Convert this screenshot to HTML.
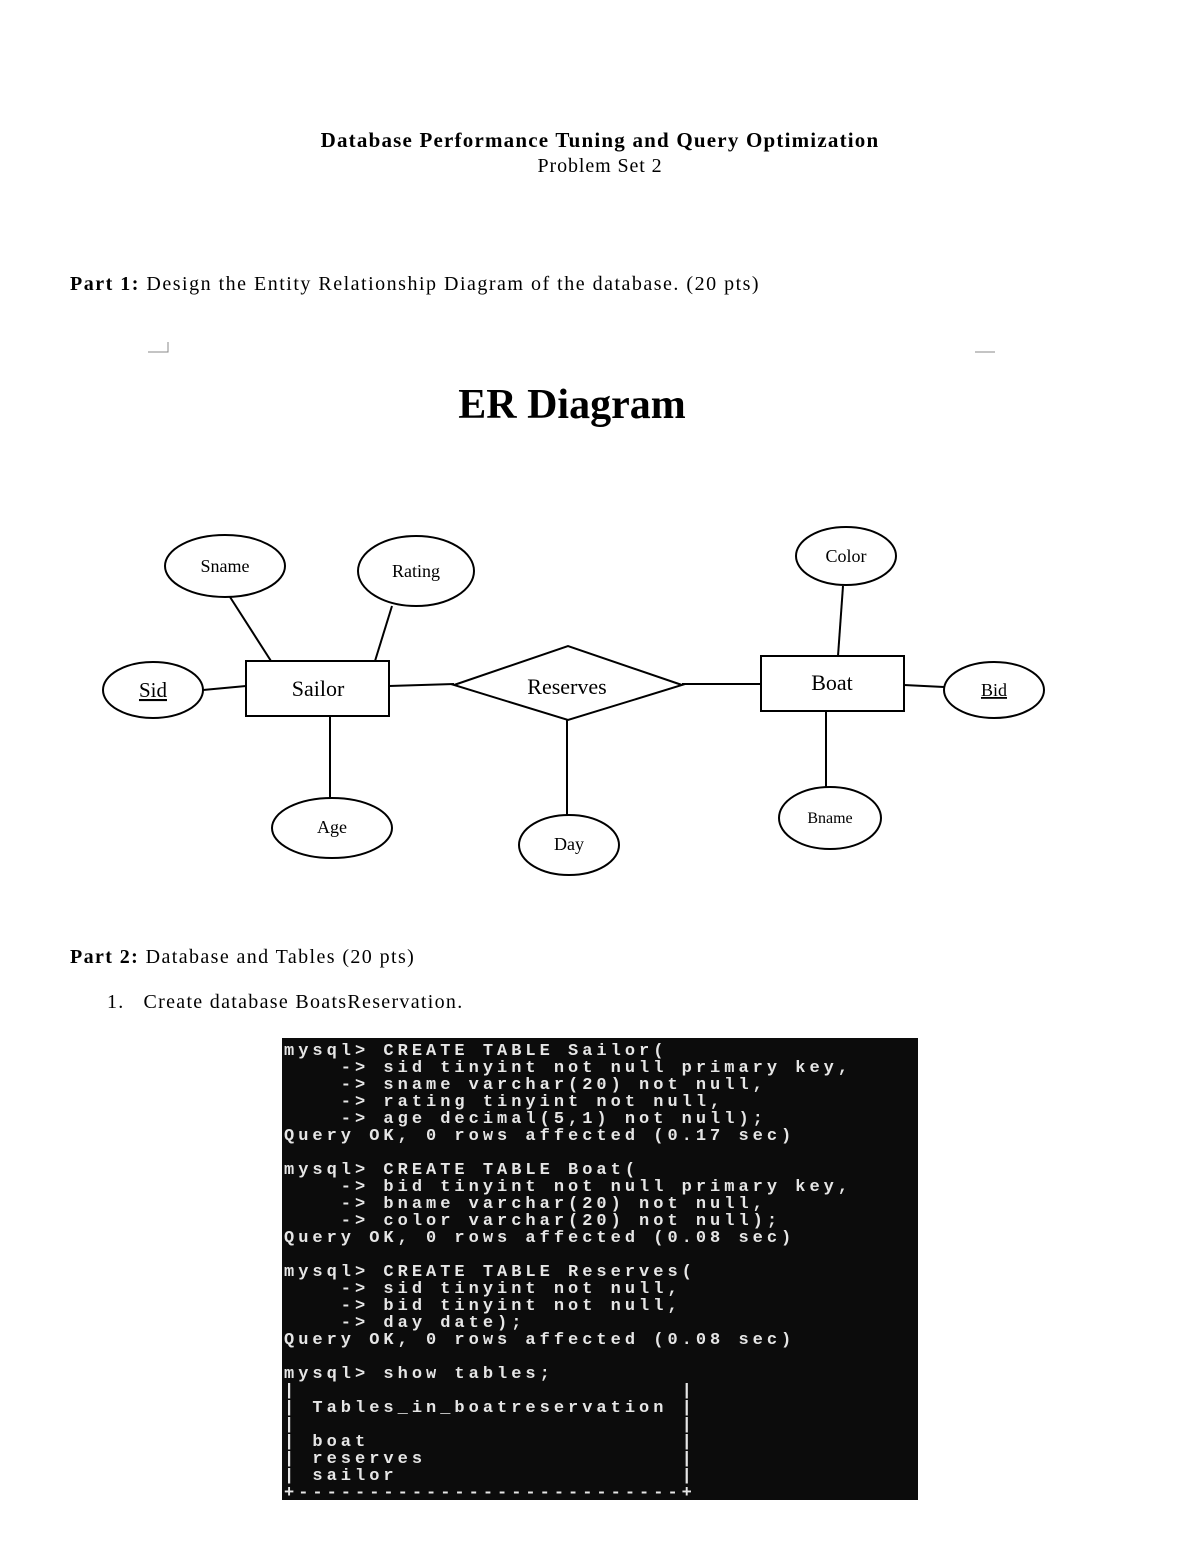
<!DOCTYPE html>
<html><head><meta charset="utf-8"><style>
body{margin:0;width:1200px;height:1553px;background:#fff;position:relative;font-family:"Liberation Serif",serif;color:#000;overflow:hidden}
.t{position:absolute;white-space:nowrap}
.term{position:absolute;left:282px;top:1038px;width:636px;height:462px;background:#0c0c0c}
.term pre{margin:0;position:absolute;left:2px;top:5px;font-family:"Liberation Mono",monospace;font-size:17px;line-height:17px;letter-spacing:4.0px;color:#e6e6e6;font-weight:bold}
</style></head><body>
<div class="t" style="left:0;width:1200px;text-align:center;top:128px;font-size:21px;font-weight:bold;letter-spacing:1.2px">Database Performance Tuning and Query Optimization</div>
<div class="t" style="left:0;width:1200px;text-align:center;top:155px;font-size:20px;letter-spacing:0.9px">Problem Set 2</div>
<div class="t" style="left:70px;top:273px;font-size:20px;letter-spacing:1.5px"><b>Part 1:</b> Design the Entity Relationship Diagram of the database. (20 pts)</div>
<div class="t" style="left:70px;top:946px;font-size:20px;letter-spacing:1.4px"><b>Part 2:</b> Database and Tables (20 pts)</div>
<div class="t" style="left:107px;top:991px;font-size:20px;letter-spacing:1.3px">1.&nbsp;&nbsp;&nbsp;Create database BoatsReservation.</div>
<svg width="1200" height="940" style="position:absolute;left:0;top:0" font-family="Liberation Serif,serif">
<path d="M148 352H168V342M975 352H995" stroke="#888" fill="none"/>
<text x="572" y="418" text-anchor="middle" font-size="42" font-weight="bold">ER Diagram</text>
<g stroke="#000" stroke-width="2" fill="none">
<line x1="230" y1="597" x2="271" y2="661"/><line x1="392" y1="606" x2="375" y2="661"/>
<line x1="203" y1="690" x2="246" y2="686"/><line x1="389" y1="686" x2="454" y2="684"/>
<line x1="682" y1="684" x2="761" y2="684"/><line x1="904" y1="685" x2="944" y2="687"/>
<line x1="843" y1="586" x2="838" y2="656"/><line x1="826" y1="711" x2="826" y2="787"/>
<line x1="330" y1="716" x2="330" y2="798"/><line x1="567" y1="720" x2="567" y2="815"/>
<ellipse cx="225" cy="566" rx="60" ry="31"/><ellipse cx="416" cy="571" rx="58" ry="35"/>
<ellipse cx="846" cy="556" rx="50" ry="29"/><ellipse cx="153" cy="690" rx="50" ry="28"/>
<ellipse cx="994" cy="690" rx="50" ry="28"/><ellipse cx="332" cy="828" rx="60" ry="30"/>
<ellipse cx="569" cy="845" rx="50" ry="30"/><ellipse cx="830" cy="818" rx="51" ry="31"/>
<rect x="246" y="661" width="143" height="55"/><rect x="761" y="656" width="143" height="55"/>
<polygon points="454,685 568,646 682,685 568,720"/>
</g>
<g font-size="18" text-anchor="middle">
<text x="225" y="572">Sname</text><text x="416" y="577">Rating</text><text x="846" y="562">Color</text>
<text x="153" y="697" font-size="21" text-decoration="underline">Sid</text>
<text x="994" y="696" text-decoration="underline">Bid</text>
<text x="332" y="833">Age</text><text x="569" y="850">Day</text><text x="830" y="823" font-size="16">Bname</text>
<text x="318" y="696" font-size="22">Sailor</text><text x="832" y="690" font-size="22">Boat</text>
<text x="567" y="694" font-size="22">Reserves</text>
</g>
</svg>
<div class="term"><pre>mysql> CREATE TABLE Sailor(
    -> sid tinyint not null primary key,
    -> sname varchar(20) not null,
    -> rating tinyint not null,
    -> age decimal(5,1) not null);
Query OK, 0 rows affected (0.17 sec)

mysql> CREATE TABLE Boat(
    -> bid tinyint not null primary key,
    -> bname varchar(20) not null,
    -> color varchar(20) not null);
Query OK, 0 rows affected (0.08 sec)

mysql> CREATE TABLE Reserves(
    -> sid tinyint not null,
    -> bid tinyint not null,
    -> day date);
Query OK, 0 rows affected (0.08 sec)

mysql> show tables;
|                           |
| Tables_in_boatreservation |
|                           |
| boat                      |
| reserves                  |
| sailor                    |
+---------------------------+</pre></div>
</body></html>
